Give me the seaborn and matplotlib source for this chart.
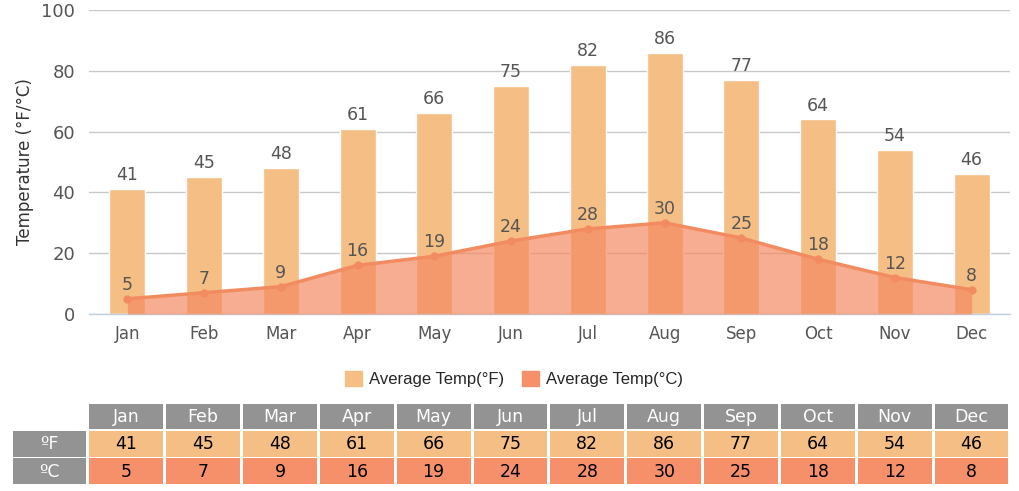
import matplotlib
matplotlib.use("Agg")
import matplotlib.pyplot as plt
import seaborn as sns
import numpy as np
import pandas as pd
from matplotlib.patches import Rectangle

months = ["Jan", "Feb", "Mar", "Apr", "May", "Jun", "Jul", "Aug", "Sep", "Oct", "Nov", "Dec"]
temp_f = [41, 45, 48, 61, 66, 75, 82, 86, 77, 64, 54, 46]
temp_c = [5, 7, 9, 16, 19, 24, 28, 30, 25, 18, 12, 8]
series_names = ["Average Temp(°F)", "Average Temp(°C)"]
row_labels = ["ºF", "ºC"]

BAR = "#F5BE85"
LINE = "#F28B60"
AREA = "#F48A62"
CROW = "#F5906A"
HEAD = "#939393"

sns.set_theme(style="white")
plt.rcParams['font.family'] = ['DejaVu Sans']

W, H = 1020, 491
fig = plt.figure(figsize=(W / 100, H / 100), dpi=100)

def px(l, t, r, b):
    return [l / W, 1 - b / H, (r - l) / W, (b - t) / H]

ax = fig.add_axes(px(89, 10, 1010, 314))
df = pd.DataFrame({"month": months, "F": temp_f, "C": temp_c})
sns.barplot(data=df, x="month", y="F", color=BAR, width=0.47, saturation=1, ax=ax, zorder=2)
xs = np.arange(len(months))
ax.fill_between(xs, temp_c, 0, color=AREA, alpha=0.7, linewidth=0, zorder=3)
sns.lineplot(x=xs, y=temp_c, color=LINE, linewidth=2.5, marker="o", markersize=6,
             markeredgewidth=0, ax=ax, zorder=4)

for i, v in enumerate(temp_f):
    ax.text(i, v + 1.6, str(v), ha="center", va="bottom", fontsize=12.5, color="#555555", zorder=5)
for i, v in enumerate(temp_c):
    ax.text(i, v + 1.6, str(v), ha="center", va="bottom", fontsize=12.5, color="#555555", zorder=5)

ax.set_xlim(-0.5, 11.5)
ax.set_ylim(0, 100)
ax.set_yticks([0, 20, 40, 60, 80, 100])
ax.yaxis.grid(True, color="#C8C8C8", linewidth=1, zorder=0)
ax.set_axisbelow(True)
for s in ["top", "right", "left"]:
    ax.spines[s].set_visible(False)
ax.spines["bottom"].set_color("#C0D0E0")
ax.spines["bottom"].set_linewidth(1)
ax.set_xticks(xs)
ax.set_xticklabels(months)
ax.set_xticks(np.arange(-0.5, 12.0, 1), minor=True)
ax.tick_params(axis="x", which="major", length=0, labelsize=12, labelcolor="#555555", pad=8)
ax.tick_params(axis="x", which="minor", length=9, width=1, color="#C0D0E0")
ax.tick_params(axis="y", length=0, labelsize=13, labelcolor="#555555", pad=10)
ax.set_xlabel("")
ax.set_ylabel("Temperature (°F/°C)", fontsize=12, color="#333333", labelpad=5, fontweight="medium")

# Legend
handles = [Rectangle((0, 0), 1, 1, color=BAR), Rectangle((0, 0), 1, 1, color=CROW)]
fig.legend(handles, series_names, loc="center", bbox_to_anchor=(514 / W, 1 - 379 / H),
           ncol=2, frameon=False, prop={"family": "Liberation Sans", "size": 12},
           handlelength=1.0, handleheight=1.0, columnspacing=1.1, handletextpad=0.4)

# Table
tax = fig.add_axes(px(11, 402, 1010, 484))
tax.set_xlim(0, 13)
tax.set_ylim(3, 0)
tax.axis("off")
g = 0.04
def cell(col, row, color, text, tcolor):
    tax.add_patch(Rectangle((col + g / 2, row + 0.06), 1 - g, 0.94, color=color, linewidth=0))
    tax.text(col + 0.5, row + 0.55, text, ha="center", va="center", fontsize=12.5, color=tcolor)

for j, m in enumerate(months):
    cell(j + 1, 0, HEAD, m, "white")
    cell(j + 1, 1, BAR, str(temp_f[j]), "black")
    cell(j + 1, 2, CROW, str(temp_c[j]), "black")
cell(0, 1, HEAD, row_labels[0], "white")
cell(0, 2, HEAD, row_labels[1], "white")

fig.savefig("out.png", dpi=100)
